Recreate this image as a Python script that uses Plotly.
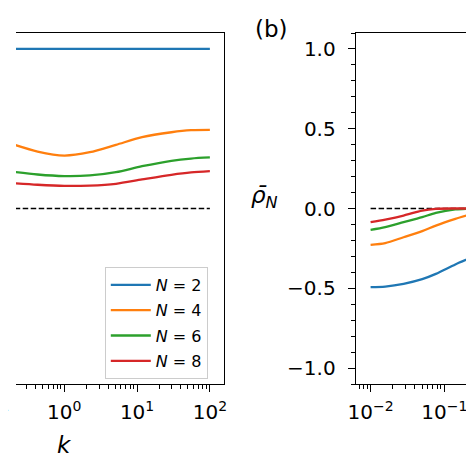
import plotly.graph_objects as go

# panel (a): rho_N versus k (only the right part of the panel is in view)
k_a = [0.169, 0.43, 1.0, 2.24, 5.12, 11.7, 29.6, 55.1, 100.0]
rho_a_n2 = [1.0, 1.0, 1.0, 1.0, 1.0, 1.0, 1.0, 1.0, 1.0]
rho_a_n4 = [0.412, 0.357, 0.332, 0.353, 0.399, 0.447, 0.478, 0.491, 0.493]
rho_a_n6 = [0.234, 0.213, 0.203, 0.207, 0.228, 0.265, 0.299, 0.313, 0.320]
rho_a_n8 = [0.161, 0.149, 0.142, 0.144, 0.155, 0.182, 0.211, 0.226, 0.234]

# panel (b): only the left part is in view
k_b = [0.01, 0.0158, 0.028, 0.0501, 0.0767, 0.141, 0.24]
rho_b_n2 = [-0.493, -0.489, -0.472, -0.443, -0.410, -0.351, -0.305]
rho_b_n4 = [-0.228, -0.217, -0.180, -0.142, -0.107, -0.065, -0.033]
rho_b_n6 = [-0.134, -0.117, -0.086, -0.054, -0.028, -0.006, 0.0]
rho_b_n8 = [-0.086, -0.069, -0.044, -0.013, -0.002, 0.0, 0.0]

k_ref = [0.01, 100.0]
zero_ref = [0.0, 0.0]

labels = ["<i>N</i> = 2", "<i>N</i> = 4", "<i>N</i> = 6", "<i>N</i> = 8"]
colors = ["#1f77b4", "#ff7f0e", "#2ca02c", "#d62728"]

FONT = "DejaVu Sans"
W = 466  # page body adds an 8px margin, so the figure is drawn 8px in


def px(sx):
    # screen x -> paper x
    return (sx - 8) / W


def py(sy):
    # screen y -> paper y
    return 1 - (sy - 8) / W


fig = go.Figure()

# zero reference lines
for xa, ya in [("x", "y"), ("x2", "y2")]:
    fig.add_trace(go.Scatter(x=k_ref, y=zero_ref, mode="lines", xaxis=xa, yaxis=ya,
                             line=dict(color="black", width=1.5, dash="5.5px,2.5px"),
                             showlegend=False, hoverinfo="skip"))

series_a = [rho_a_n2, rho_a_n4, rho_a_n6, rho_a_n8]
series_b = [rho_b_n2, rho_b_n4, rho_b_n6, rho_b_n8]
for i in range(4):
    fig.add_trace(go.Scatter(x=k_a, y=series_a[i], mode="lines", name=labels[i],
                             legendgroup=f"g{i}",
                             line=dict(color=colors[i], width=2.3, shape="spline", smoothing=0.8),
                             xaxis="x", yaxis="y"))
for i in range(4):
    fig.add_trace(go.Scatter(x=k_b, y=series_b[i], mode="lines", showlegend=False,
                             legendgroup=f"g{i}",
                             line=dict(color=colors[i], width=2.3, shape="spline", smoothing=0.8),
                             xaxis="x2", yaxis="y2"))

major_log = [0.01, 0.1, 1, 10, 100]
major_txt = ["10<sup>−2</sup>", "10<sup>−1</sup>", "10<sup>0</sup>", "10<sup>1</sup>", "10<sup>2</sup>"]
minor_log = [m * d for d in [0.001, 0.01, 0.1, 1, 10] for m in range(2, 10)]

xcommon = dict(type="log", tickmode="array", tickvals=major_log, ticktext=major_txt,
               ticks="outside", ticklen=7, tickwidth=1.3, tickcolor="black",
               minor=dict(tickmode="array", tickvals=minor_log, ticks="outside",
                          ticklen=4, tickwidth=1, tickcolor="black"),
               showline=True, linecolor="black", linewidth=1.3, mirror=True,
               showgrid=False, zeroline=False, ticklabelstandoff=3,
               tickfont=dict(family=FONT, size=20, color="black"))

ydom = [py(384), py(33)]

fig.update_layout(
    width=W, height=W,
    margin=dict(l=0, r=0, t=0, b=0),
    paper_bgcolor="white", plot_bgcolor="white",
    font=dict(family=FONT, color="black"),
    xaxis=dict(xcommon, domain=[0, px(221)], range=[(8 - 57.3) / 74.3, 2.2], anchor="y"),
    yaxis=dict(domain=ydom, range=[-1.1, 1.1], side="right", anchor="x",
               showline=True, linecolor="black", linewidth=1.3, ticks="",
               showticklabels=False, showgrid=False, zeroline=False),
    xaxis2=dict(xcommon, domain=[px(355.3), 1.0], range=[-2.2, -0.625], anchor="y2"),
    yaxis2=dict(domain=ydom, range=[-1.1, 1.1], anchor="x2",
                tickmode="array", tickvals=[-1.0, -0.5, 0.0, 0.5, 1.0],
                ticktext=["−1.0", "−0.5", "0.0", "0.5", "1.0"],
                ticks="outside", ticklen=7, tickwidth=1.3, tickcolor="black",
                minor=dict(dtick=0.1, tick0=0, ticks="outside", ticklen=4,
                           tickwidth=1, tickcolor="black"),
                ticklabelstandoff=8,
                showline=True, linecolor="black", linewidth=1.3, mirror=False,
                showgrid=False, zeroline=False,
                tickfont=dict(family=FONT, size=20, color="black")),
    legend=dict(x=px(204), xanchor="right", y=py(267), yanchor="top",
                bordercolor="#cccccc", borderwidth=1, bgcolor="rgba(255,255,255,0.8)",
                font=dict(family=FONT, size=16, color="black"),
                itemwidth=40, tracegroupgap=1.5),
    annotations=[
        dict(text="<i>k</i>", xref="paper", yref="paper", x=px(57.5), y=py(445),
             xanchor="center", yanchor="middle", showarrow=False,
             font=dict(family=FONT, size=23)),
        dict(text="10<sup>−1</sup>", xref="paper", yref="paper", x=px(-23), y=py(411),
             xanchor="center", yanchor="middle", showarrow=False,
             font=dict(family=FONT, size=20)),
        dict(text="(b)", xref="paper", yref="paper", x=px(269.5), y=py(29),
             xanchor="center", yanchor="middle", showarrow=False,
             font=dict(family=FONT, size=23)),
        dict(text="<i>ρ̄</i><sub><i>N</i></sub>", xref="paper", yref="paper",
             x=px(262), y=py(197), xanchor="center", yanchor="middle",
             showarrow=False, font=dict(family=FONT, size=23)),
    ],
)

fig.write_html("out.html")
